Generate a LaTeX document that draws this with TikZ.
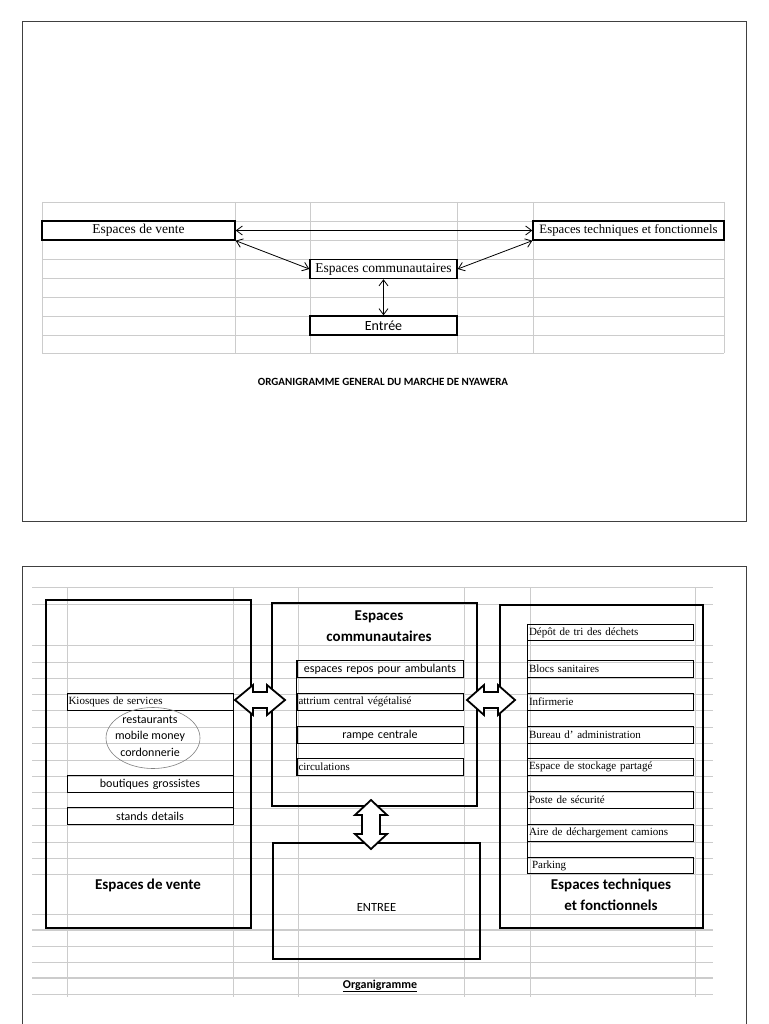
\documentclass[tikz,border=0pt]{standalone}
\usepackage{fontspec}
\setmainfont{Liberation Serif}
\newfontfamily\calib{Carlito}
\usetikzlibrary{arrows.meta}

% fonts of the two sheets
\newcommand{\serifsz}[1]{\fontsize{#1}{#1}\selectfont}
\newcommand{\calibsz}[1]{\calib\fontsize{#1}{#1}\selectfont}

\tikzset{
    panel/.style={draw=black!75, line width=1pt},
    gridline/.style={draw=black!20, line width=0.8pt},
    topbox/.style={draw, line width=1.4pt, minimum height=19pt, inner sep=0pt},
    bigbox/.style={draw, line width=2.2pt},
    cellbox/.style={draw, line width=1pt, minimum height=16.5pt, inner ysep=0pt, inner xsep=1.5pt, text width=#1},
    link/.style={{Straight Barb[length=6pt,width=9pt]}-{Straight Barb[length=6pt,width=9pt]}, line width=0.8pt},
    fatarrow/.style={draw, fill=white, line width=1.8pt, line join=miter},
    title/.style={font=\calibsz{15}\bfseries, align=center}
}

\begin{document}
\begin{tikzpicture}[x=1pt, y=-1pt]

    % Page size and white background
    \useasboundingbox[fill=white] (0,0) rectangle (768,1024);

    % ---------------- first sheet ----------------
    \draw[panel] (22,22) rectangle (746,521);

    % Spreadsheet grid behind the diagram
    \foreach \gy in {202,221,240,259.5,278.5,297,316,335,353}
        \draw[gridline] (42,\gy) -- (724,\gy);
    \foreach \gx in {42,235,310,457,533,724}
        \draw[gridline] (\gx,202) -- (\gx,353);

    % Boxes of the general chart
    \node[topbox, minimum width=193pt, font=\serifsz{13.5}] (vente) at (138.5,230.5) {Espaces de vente};
    \node[topbox, minimum width=191pt, font=\serifsz{12.8}] (tech) at (628.5,230.5) {Espaces techniques et fonctionnels};
    \node[topbox, minimum width=147pt, font=\serifsz{13.5}] (comm) at (383.5,269) {Espaces communautaires};
    \node[topbox, minimum width=147pt, font=\calibsz{14}] (entree) at (383.5,325.5) {Entrée};

    % Links between the spaces
    \draw[link] (vente.east) -- (tech.west);
    \draw[link] (vente.south east) -- (comm.west);
    \draw[link] (tech.south west) -- (comm.east);
    \draw[link] (comm.south) -- (entree.north);

    % Caption of the first sheet
    \node[font=\calibsz{11}\bfseries] (caption1) at (383,382) {ORGANIGRAMME GENERAL DU MARCHE DE NYAWERA};

    % ---------------- second sheet ----------------
    \draw[panel] (22,1030) -- (22,566) -- (746,566) -- (746,1030);

    % Spreadsheet grid behind the diagram
    \foreach \gy in {587,604,645,662,678,694,710,727,743,760,776,792,808,825,842,858,874,914,946,962,994}
        \draw[gridline] (32,\gy) -- (713,\gy);
    \draw[gridline, line width=1.4pt] (32,930) -- (713,930) (32,978) -- (713,978);
    \foreach \gx in {67,233,298,464,530,695}
        \draw[gridline] (\gx,587) -- (\gx,997);

    % Three columns and the entrance
    \draw[bigbox] (46,600) rectangle (251,928);
    \draw[bigbox] (272,603) rectangle (477,806);
    \draw[bigbox] (500,605) rectangle (703,928);
    \draw[bigbox] (273,843) rectangle (480,959);

    % Espaces de vente
    \node[cellbox=163pt, align=left, font=\serifsz{11}] (kiosques) at (150,702) {Kiosques de services};
    \draw[black!50, line width=0.6pt] (153,738) ellipse (47 and 30.5);
    \node[font=\calibsz{12}, align=center, inner sep=0pt] (services) at (150,736) {restaurants\\[4.5pt]mobile money\\[4.5pt]cordonnerie};
    \node[cellbox=163pt, align=center, font=\calibsz{12}] (boutiques) at (150,784) {boutiques grossistes};
    \node[cellbox=163pt, align=center, font=\calibsz{12}] (stands) at (150,816) {stands details};
    \draw[line width=0.8pt] (kiosques.north east) -- (stands.south east);
    \node[title] (ventetitle) at (148,885) {Espaces de vente};

    % Espaces communautaires
    \node[title] (commtitle) at (379,626) {Espaces\\[6pt]communautaires};
    \node[cellbox=163pt, align=center, font=\calibsz{12}] (repos) at (380,669) {espaces repos pour ambulants};
    \node[cellbox=163pt, align=left, font=\serifsz{11}] (attrium) at (380,702) {attrium central végétalisé};
    \node[cellbox=163pt, align=center, font=\calibsz{12}] (rampe) at (380,735) {rampe centrale};
    \node[cellbox=163pt, align=left, font=\serifsz{11}] (circ) at (380,767) {circulations};
    \draw[line width=0.8pt] (repos.north west) -- (circ.south west);

    % Entrance
    \node[font=\calibsz{12.5}] (entreetext) at (376.5,907) {ENTREE};

    % Espaces techniques et fonctionnels
    \node[cellbox=163pt, align=left, font=\serifsz{11}] (depot) at (610.5,632.5) {Dépôt de tri des déchets};
    \node[cellbox=163pt, align=left, font=\serifsz{11}] (blocs) at (610.5,669) {Blocs sanitaires};
    \node[cellbox=163pt, align=left, font=\serifsz{11}] (infirm) at (610.5,702) {Infirmerie};
    \node[cellbox=163pt, align=left, font=\serifsz{11}] (bureau) at (610.5,735) {Bureau d’ administration};
    \node[cellbox=163pt, align=left, font=\serifsz{11}] (stock) at (610.5,767) {Espace de stockage partagé};
    \node[cellbox=163pt, align=left, font=\serifsz{11}] (poste) at (610.5,800) {Poste de sécurité};
    \node[cellbox=163pt, align=left, font=\serifsz{11}] (aire) at (610.5,833) {Aire de déchargement camions};
    \node[cellbox=163pt, align=left, font=\serifsz{11}] (parking) at (610.5,865.5) {\hspace{3pt}Parking};
    \draw[line width=0.8pt] (depot.north west) -- (parking.south west);
    \node[title] (techtitle) at (611,895) {Espaces techniques\\[6pt]et fonctionnels};

    % Double arrows between the blocks
    \coordinate (arrVC) at (260,700);
    \draw[fatarrow] (arrVC) ++(-25,0) -- ++(18,-15) -- ++(0,7) -- ++(14,0) -- ++(0,-7)
        -- ++(18,15) -- ++(-18,15) -- ++(0,-7) -- ++(-14,0) -- ++(0,7) -- cycle;
    \coordinate (arrCT) at (491,700);
    \draw[fatarrow] (arrCT) ++(-24,0) -- ++(17,-15) -- ++(0,7) -- ++(14,0) -- ++(0,-7)
        -- ++(17,15) -- ++(-17,15) -- ++(0,-7) -- ++(-14,0) -- ++(0,7) -- cycle;
    \coordinate (arrCE) at (371,824.5);
    \draw[fatarrow] (arrCE) ++(0,-24.5) -- ++(16,15) -- ++(-7,0) -- ++(0,19) -- ++(7,0)
        -- ++(-16,15) -- ++(-16,-15) -- ++(7,0) -- ++(0,-19) -- ++(-7,0) -- cycle;

    % Caption of the second sheet
    \node[font=\calibsz{12}\bfseries] (caption2) at (380,986) {\underline{Organigramme}};

\end{tikzpicture}
\end{document}
